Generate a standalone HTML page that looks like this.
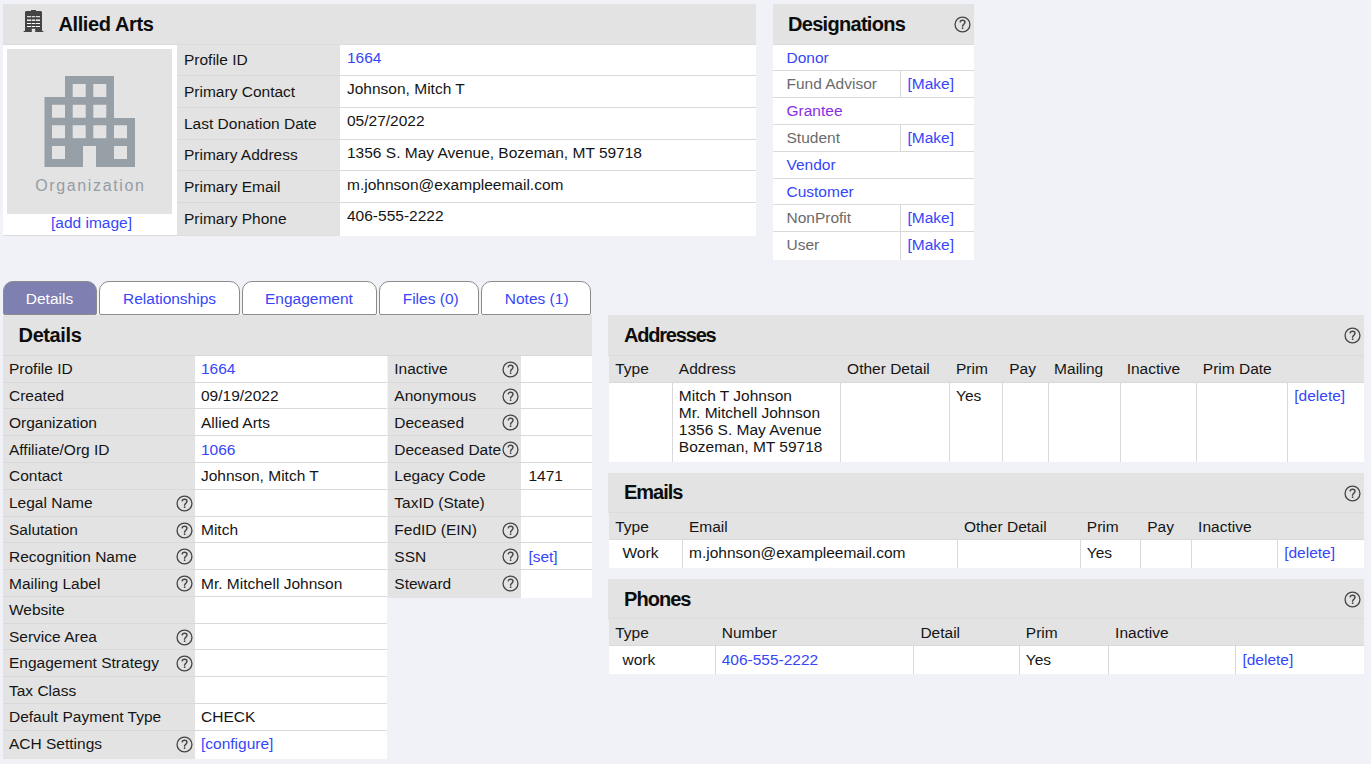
<!DOCTYPE html>
<html><head><meta charset="utf-8"><style>
html,body{margin:0;padding:0}
body{width:1371px;height:764px;overflow:hidden;background:#f0f2f7;position:relative;font-family:"Liberation Sans",sans-serif;font-size:15.5px;color:#151515}
.a{position:absolute}
.t{position:absolute;white-space:nowrap;line-height:17px}
.ttl{font-size:20px;font-weight:bold;line-height:22px;color:#0d0d0d}
.lk{color:#3646f8}
.vis{color:#8a2ee6}
.gr{color:#6b6b6b}
.tab{background:#fff;border:1px solid #8c8c8c;border-radius:10px 10px 2px 2px;box-sizing:border-box}
.tab.act{background:#7e80b2}
</style></head><body>
<div class="a" style="left:3px;top:4px;width:753px;height:40px;background:#e3e3e3"></div>
<div class="a" style="left:3px;top:44px;width:753px;height:1px;background:#dcdcdc"></div>
<div class="a" style="left:3px;top:45px;width:174px;height:190px;background:#fff"></div>
<div class="a" style="left:3px;top:235px;width:174px;height:1px;background:#dcdcdc"></div>
<div class="a" style="left:7px;top:49px;width:165px;height:165px;background:#e3e3e3"></div>
<svg class="a" style="left:0;top:0" width="180" height="240" viewBox="0 0 180 240"><path fill="#979fa7" fill-rule="evenodd" d="M65 76H114V118H135V167H96V146H83V167H44.5V97H65ZM72.7 84h13v13h-13zM93.3 84h13v13h-13zM52 104.7h13v13h-13zM72.7 104.7h13v13h-13zM93.3 104.7h13v13h-13zM52 125.3h13v13h-13zM72.7 125.3h13v13h-13zM93.3 125.3h13v13h-13zM114 125.3h13v13h-13zM52 146h13v13h-13zM114 146h13v13h-13z"/></svg>
<div class="t " style="left:35.3px;top:176.50px;color:#959ca4;letter-spacing:1.62px;font-size:16px">Organization</div>
<div class="t lk" style="left:51px;top:214.10px;">[add image]</div>
<svg class="a" style="left:22px;top:9px" width="23" height="24" viewBox="0 0 23 24"><path fill="#444" d="M3 3.4 Q3 2 4.5 2 H9 V1 H14 V2 H18.5 Q20 2 20 3.4 V21.5 L22 23 H13.2 V19.8 H9.8 V23 H1 L3 21.5Z"/><g fill="#fff"><rect x="5" y="7.2" width="4" height="1"/><rect x="9.7" y="7.2" width="3.6" height="1"/><rect x="14" y="7.2" width="4" height="1"/><rect x="5" y="10.5" width="4" height="1.4"/><rect x="9.7" y="10.5" width="3.6" height="1.4"/><rect x="14" y="10.5" width="4" height="1.4"/><rect x="5" y="14" width="4" height="1"/><rect x="9.7" y="14" width="3.6" height="1"/><rect x="14" y="14" width="4" height="1"/><rect x="5" y="17" width="4" height="1"/><rect x="9.7" y="17" width="3.6" height="1"/><rect x="14" y="17" width="4" height="1"/></g></svg>
<div class="t ttl" style="left:58.5px;top:13.40px;letter-spacing:-0.4px;">Allied Arts</div>
<div class="a" style="left:177px;top:45px;width:163px;height:191px;background:#e3e3e3"></div>
<div class="a" style="left:340px;top:45px;width:416px;height:191px;background:#fff"></div>
<div class="a" style="left:177px;top:235px;width:163px;height:1px;background:#dedede"></div>
<div class="a" style="left:177px;top:75px;width:579px;height:1px;background:#d9d9d9"></div>
<div class="a" style="left:177px;top:107px;width:579px;height:1px;background:#d9d9d9"></div>
<div class="a" style="left:177px;top:139px;width:579px;height:1px;background:#d9d9d9"></div>
<div class="a" style="left:177px;top:170px;width:579px;height:1px;background:#d9d9d9"></div>
<div class="a" style="left:177px;top:202px;width:579px;height:1px;background:#d9d9d9"></div>
<div class="t " style="left:184px;top:51.10px;">Profile ID</div>
<div class="t lk" style="left:347px;top:49.10px;">1664</div>
<div class="t " style="left:184px;top:83.10px;">Primary Contact</div>
<div class="t " style="left:347px;top:80.10px;">Johnson, Mitch T</div>
<div class="t " style="left:184px;top:115.10px;">Last Donation Date</div>
<div class="t " style="left:347px;top:112.10px;">05/27/2022</div>
<div class="t " style="left:184px;top:146.10px;">Primary Address</div>
<div class="t " style="left:347px;top:144.10px;">1356 S. May Avenue, Bozeman, MT 59718</div>
<div class="t " style="left:184px;top:178.10px;">Primary Email</div>
<div class="t " style="left:347px;top:176.10px;">m.johnson@exampleemail.com</div>
<div class="t " style="left:184px;top:210.10px;">Primary Phone</div>
<div class="t " style="left:347px;top:207.10px;">406-555-2222</div>
<div class="a" style="left:773px;top:4px;width:201px;height:40px;background:#e3e3e3"></div>
<div class="a" style="left:773px;top:44px;width:201px;height:1px;background:#dcdcdc"></div>
<div class="a" style="left:773px;top:45px;width:201px;height:215px;background:#fff"></div>
<div class="t ttl" style="left:788px;top:13.00px;letter-spacing:-0.7px;">Designations</div>
<svg class="a" style="left:953.90px;top:15.90px" width="17" height="17" viewBox="0 0 17 17"><circle cx="8.5" cy="8.5" r="7.45" fill="none" stroke="#454545" stroke-width="1.3"/><path d="M6.1 6.4 C6.2 4.9 7.2 4.3 8.6 4.3 C10 4.3 11 5.2 11 6.3 C11 7.8 9 8.3 8.6 9.9 L8.6 10.7" fill="none" stroke="#454545" stroke-width="1.4"/><circle cx="8.6" cy="12.2" r="0.85" fill="#454545"/></svg>
<div class="a" style="left:773px;top:70px;width:201px;height:1px;background:#d9d9d9"></div>
<div class="a" style="left:773px;top:97px;width:201px;height:1px;background:#d9d9d9"></div>
<div class="a" style="left:773px;top:124px;width:201px;height:1px;background:#d9d9d9"></div>
<div class="a" style="left:773px;top:151px;width:201px;height:1px;background:#d9d9d9"></div>
<div class="a" style="left:773px;top:178px;width:201px;height:1px;background:#d9d9d9"></div>
<div class="a" style="left:773px;top:204px;width:201px;height:1px;background:#d9d9d9"></div>
<div class="a" style="left:773px;top:231px;width:201px;height:1px;background:#d9d9d9"></div>
<div class="t lk" style="left:786.5px;top:49.10px;">Donor</div>
<div class="t gr" style="left:786.5px;top:75.10px;">Fund Advisor</div>
<div class="a" style="left:900px;top:71px;width:1px;height:26px;background:#d9d9d9"></div>
<div class="t lk" style="left:907.5px;top:75.10px;">[Make]</div>
<div class="t vis" style="left:786.5px;top:102.10px;">Grantee</div>
<div class="t gr" style="left:786.5px;top:129.10px;">Student</div>
<div class="a" style="left:900px;top:125px;width:1px;height:26px;background:#d9d9d9"></div>
<div class="t lk" style="left:907.5px;top:129.10px;">[Make]</div>
<div class="t lk" style="left:786.5px;top:156.10px;">Vendor</div>
<div class="t lk" style="left:786.5px;top:183.10px;">Customer</div>
<div class="t gr" style="left:786.5px;top:209.10px;">NonProfit</div>
<div class="a" style="left:900px;top:205px;width:1px;height:26px;background:#d9d9d9"></div>
<div class="t lk" style="left:907.5px;top:209.10px;">[Make]</div>
<div class="t gr" style="left:786.5px;top:236.10px;">User</div>
<div class="a" style="left:900px;top:232px;width:1px;height:28px;background:#d9d9d9"></div>
<div class="t lk" style="left:907.5px;top:236.10px;">[Make]</div>
<div class="a tab act" style="left:3px;top:281px;width:94px;height:34px"></div>
<div class="t " style="left:25.8px;top:290.10px;color:#fff">Details</div>
<div class="a tab" style="left:99px;top:281px;width:140.5px;height:34px"></div>
<div class="t lk" style="left:123px;top:290.10px;">Relationships</div>
<div class="a tab" style="left:242px;top:281px;width:134.5px;height:34px"></div>
<div class="t lk" style="left:265px;top:290.10px;">Engagement</div>
<div class="a tab" style="left:379px;top:281px;width:99.5px;height:34px"></div>
<div class="t lk" style="left:402.7px;top:290.10px;">Files (0)</div>
<div class="a tab" style="left:481px;top:281px;width:110.0px;height:34px"></div>
<div class="t lk" style="left:504.8px;top:290.10px;">Notes (1)</div>
<div class="a" style="left:3px;top:315px;width:589px;height:40px;background:#e3e3e3"></div>
<div class="t ttl" style="left:18.6px;top:323.90px;letter-spacing:-0.4px;">Details</div>
<div class="a" style="left:3px;top:356px;width:192px;height:403px;background:#e3e3e3"></div>
<div class="a" style="left:195px;top:356px;width:192px;height:403px;background:#fff"></div>
<div class="a" style="left:3px;top:355px;width:589px;height:1px;background:#d9d9d9"></div>
<div class="a" style="left:3px;top:382px;width:384px;height:1px;background:#d9d9d9"></div>
<div class="a" style="left:3px;top:408px;width:384px;height:1px;background:#d9d9d9"></div>
<div class="a" style="left:3px;top:435px;width:384px;height:1px;background:#d9d9d9"></div>
<div class="a" style="left:3px;top:462px;width:384px;height:1px;background:#d9d9d9"></div>
<div class="a" style="left:3px;top:489px;width:384px;height:1px;background:#d9d9d9"></div>
<div class="a" style="left:3px;top:516px;width:384px;height:1px;background:#d9d9d9"></div>
<div class="a" style="left:3px;top:542px;width:384px;height:1px;background:#d9d9d9"></div>
<div class="a" style="left:3px;top:569px;width:384px;height:1px;background:#d9d9d9"></div>
<div class="a" style="left:3px;top:596px;width:384px;height:1px;background:#d9d9d9"></div>
<div class="a" style="left:3px;top:623px;width:384px;height:1px;background:#d9d9d9"></div>
<div class="a" style="left:3px;top:649px;width:384px;height:1px;background:#d9d9d9"></div>
<div class="a" style="left:3px;top:676px;width:384px;height:1px;background:#d9d9d9"></div>
<div class="a" style="left:3px;top:703px;width:384px;height:1px;background:#d9d9d9"></div>
<div class="a" style="left:3px;top:730px;width:384px;height:1px;background:#d9d9d9"></div>
<div class="t " style="left:9px;top:360.10px;">Profile ID</div>
<div class="t lk" style="left:201px;top:360.10px;">1664</div>
<div class="t " style="left:9px;top:387.10px;">Created</div>
<div class="t " style="left:201px;top:387.10px;">09/19/2022</div>
<div class="t " style="left:9px;top:414.10px;">Organization</div>
<div class="t " style="left:201px;top:414.10px;">Allied Arts</div>
<div class="t " style="left:9px;top:441.10px;">Affiliate/Org ID</div>
<div class="t lk" style="left:201px;top:441.10px;">1066</div>
<div class="t " style="left:9px;top:467.10px;">Contact</div>
<div class="t " style="left:201px;top:467.10px;">Johnson, Mitch T</div>
<div class="t " style="left:9px;top:494.10px;">Legal Name</div>
<svg class="a" style="left:175.50px;top:495.00px" width="17" height="17" viewBox="0 0 17 17"><circle cx="8.5" cy="8.5" r="7.45" fill="none" stroke="#454545" stroke-width="1.3"/><path d="M6.1 6.4 C6.2 4.9 7.2 4.3 8.6 4.3 C10 4.3 11 5.2 11 6.3 C11 7.8 9 8.3 8.6 9.9 L8.6 10.7" fill="none" stroke="#454545" stroke-width="1.4"/><circle cx="8.6" cy="12.2" r="0.85" fill="#454545"/></svg>
<div class="t " style="left:9px;top:521.10px;">Salutation</div>
<svg class="a" style="left:175.50px;top:522.00px" width="17" height="17" viewBox="0 0 17 17"><circle cx="8.5" cy="8.5" r="7.45" fill="none" stroke="#454545" stroke-width="1.3"/><path d="M6.1 6.4 C6.2 4.9 7.2 4.3 8.6 4.3 C10 4.3 11 5.2 11 6.3 C11 7.8 9 8.3 8.6 9.9 L8.6 10.7" fill="none" stroke="#454545" stroke-width="1.4"/><circle cx="8.6" cy="12.2" r="0.85" fill="#454545"/></svg>
<div class="t " style="left:201px;top:521.10px;">Mitch</div>
<div class="t " style="left:9px;top:548.10px;">Recognition Name</div>
<svg class="a" style="left:175.50px;top:548.00px" width="17" height="17" viewBox="0 0 17 17"><circle cx="8.5" cy="8.5" r="7.45" fill="none" stroke="#454545" stroke-width="1.3"/><path d="M6.1 6.4 C6.2 4.9 7.2 4.3 8.6 4.3 C10 4.3 11 5.2 11 6.3 C11 7.8 9 8.3 8.6 9.9 L8.6 10.7" fill="none" stroke="#454545" stroke-width="1.4"/><circle cx="8.6" cy="12.2" r="0.85" fill="#454545"/></svg>
<div class="t " style="left:9px;top:575.10px;">Mailing Label</div>
<svg class="a" style="left:175.50px;top:575.00px" width="17" height="17" viewBox="0 0 17 17"><circle cx="8.5" cy="8.5" r="7.45" fill="none" stroke="#454545" stroke-width="1.3"/><path d="M6.1 6.4 C6.2 4.9 7.2 4.3 8.6 4.3 C10 4.3 11 5.2 11 6.3 C11 7.8 9 8.3 8.6 9.9 L8.6 10.7" fill="none" stroke="#454545" stroke-width="1.4"/><circle cx="8.6" cy="12.2" r="0.85" fill="#454545"/></svg>
<div class="t " style="left:201px;top:575.10px;">Mr. Mitchell Johnson</div>
<div class="t " style="left:9px;top:601.10px;">Website</div>
<div class="t " style="left:9px;top:628.10px;">Service Area</div>
<svg class="a" style="left:175.50px;top:629.00px" width="17" height="17" viewBox="0 0 17 17"><circle cx="8.5" cy="8.5" r="7.45" fill="none" stroke="#454545" stroke-width="1.3"/><path d="M6.1 6.4 C6.2 4.9 7.2 4.3 8.6 4.3 C10 4.3 11 5.2 11 6.3 C11 7.8 9 8.3 8.6 9.9 L8.6 10.7" fill="none" stroke="#454545" stroke-width="1.4"/><circle cx="8.6" cy="12.2" r="0.85" fill="#454545"/></svg>
<div class="t " style="left:9px;top:654.10px;">Engagement Strategy</div>
<svg class="a" style="left:175.50px;top:655.00px" width="17" height="17" viewBox="0 0 17 17"><circle cx="8.5" cy="8.5" r="7.45" fill="none" stroke="#454545" stroke-width="1.3"/><path d="M6.1 6.4 C6.2 4.9 7.2 4.3 8.6 4.3 C10 4.3 11 5.2 11 6.3 C11 7.8 9 8.3 8.6 9.9 L8.6 10.7" fill="none" stroke="#454545" stroke-width="1.4"/><circle cx="8.6" cy="12.2" r="0.85" fill="#454545"/></svg>
<div class="t " style="left:9px;top:682.10px;">Tax Class</div>
<div class="t " style="left:9px;top:708.10px;">Default Payment Type</div>
<div class="t " style="left:201px;top:708.10px;">CHECK</div>
<div class="t " style="left:9px;top:735.10px;">ACH Settings</div>
<svg class="a" style="left:175.50px;top:736.00px" width="17" height="17" viewBox="0 0 17 17"><circle cx="8.5" cy="8.5" r="7.45" fill="none" stroke="#454545" stroke-width="1.3"/><path d="M6.1 6.4 C6.2 4.9 7.2 4.3 8.6 4.3 C10 4.3 11 5.2 11 6.3 C11 7.8 9 8.3 8.6 9.9 L8.6 10.7" fill="none" stroke="#454545" stroke-width="1.4"/><circle cx="8.6" cy="12.2" r="0.85" fill="#454545"/></svg>
<div class="t lk" style="left:201px;top:735.10px;">[configure]</div>
<div class="a" style="left:388px;top:356px;width:133px;height:242px;background:#e3e3e3"></div>
<div class="a" style="left:521px;top:356px;width:71px;height:242px;background:#fff"></div>
<div class="a" style="left:388px;top:382px;width:204px;height:1px;background:#d9d9d9"></div>
<div class="a" style="left:388px;top:408px;width:204px;height:1px;background:#d9d9d9"></div>
<div class="a" style="left:388px;top:435px;width:204px;height:1px;background:#d9d9d9"></div>
<div class="a" style="left:388px;top:462px;width:204px;height:1px;background:#d9d9d9"></div>
<div class="a" style="left:388px;top:489px;width:204px;height:1px;background:#d9d9d9"></div>
<div class="a" style="left:388px;top:516px;width:204px;height:1px;background:#d9d9d9"></div>
<div class="a" style="left:388px;top:542px;width:204px;height:1px;background:#d9d9d9"></div>
<div class="a" style="left:388px;top:569px;width:204px;height:1px;background:#d9d9d9"></div>
<div class="t " style="left:394.3px;top:360.10px;">Inactive</div>
<svg class="a" style="left:501.90px;top:361.00px" width="17" height="17" viewBox="0 0 17 17"><circle cx="8.5" cy="8.5" r="7.45" fill="none" stroke="#454545" stroke-width="1.3"/><path d="M6.1 6.4 C6.2 4.9 7.2 4.3 8.6 4.3 C10 4.3 11 5.2 11 6.3 C11 7.8 9 8.3 8.6 9.9 L8.6 10.7" fill="none" stroke="#454545" stroke-width="1.4"/><circle cx="8.6" cy="12.2" r="0.85" fill="#454545"/></svg>
<div class="t " style="left:394.3px;top:387.10px;">Anonymous</div>
<svg class="a" style="left:501.90px;top:388.00px" width="17" height="17" viewBox="0 0 17 17"><circle cx="8.5" cy="8.5" r="7.45" fill="none" stroke="#454545" stroke-width="1.3"/><path d="M6.1 6.4 C6.2 4.9 7.2 4.3 8.6 4.3 C10 4.3 11 5.2 11 6.3 C11 7.8 9 8.3 8.6 9.9 L8.6 10.7" fill="none" stroke="#454545" stroke-width="1.4"/><circle cx="8.6" cy="12.2" r="0.85" fill="#454545"/></svg>
<div class="t " style="left:394.3px;top:414.10px;">Deceased</div>
<svg class="a" style="left:501.90px;top:414.00px" width="17" height="17" viewBox="0 0 17 17"><circle cx="8.5" cy="8.5" r="7.45" fill="none" stroke="#454545" stroke-width="1.3"/><path d="M6.1 6.4 C6.2 4.9 7.2 4.3 8.6 4.3 C10 4.3 11 5.2 11 6.3 C11 7.8 9 8.3 8.6 9.9 L8.6 10.7" fill="none" stroke="#454545" stroke-width="1.4"/><circle cx="8.6" cy="12.2" r="0.85" fill="#454545"/></svg>
<div class="t " style="left:394.3px;top:441.10px;">Deceased Date</div>
<svg class="a" style="left:501.90px;top:441.00px" width="17" height="17" viewBox="0 0 17 17"><circle cx="8.5" cy="8.5" r="7.45" fill="none" stroke="#454545" stroke-width="1.3"/><path d="M6.1 6.4 C6.2 4.9 7.2 4.3 8.6 4.3 C10 4.3 11 5.2 11 6.3 C11 7.8 9 8.3 8.6 9.9 L8.6 10.7" fill="none" stroke="#454545" stroke-width="1.4"/><circle cx="8.6" cy="12.2" r="0.85" fill="#454545"/></svg>
<div class="t " style="left:394.3px;top:467.10px;">Legacy Code</div>
<div class="t " style="left:528.4px;top:467.10px;">1471</div>
<div class="t " style="left:394.3px;top:494.10px;">TaxID (State)</div>
<div class="t " style="left:394.3px;top:521.10px;">FedID (EIN)</div>
<svg class="a" style="left:501.90px;top:522.00px" width="17" height="17" viewBox="0 0 17 17"><circle cx="8.5" cy="8.5" r="7.45" fill="none" stroke="#454545" stroke-width="1.3"/><path d="M6.1 6.4 C6.2 4.9 7.2 4.3 8.6 4.3 C10 4.3 11 5.2 11 6.3 C11 7.8 9 8.3 8.6 9.9 L8.6 10.7" fill="none" stroke="#454545" stroke-width="1.4"/><circle cx="8.6" cy="12.2" r="0.85" fill="#454545"/></svg>
<div class="t " style="left:394.3px;top:548.10px;">SSN</div>
<svg class="a" style="left:501.90px;top:548.00px" width="17" height="17" viewBox="0 0 17 17"><circle cx="8.5" cy="8.5" r="7.45" fill="none" stroke="#454545" stroke-width="1.3"/><path d="M6.1 6.4 C6.2 4.9 7.2 4.3 8.6 4.3 C10 4.3 11 5.2 11 6.3 C11 7.8 9 8.3 8.6 9.9 L8.6 10.7" fill="none" stroke="#454545" stroke-width="1.4"/><circle cx="8.6" cy="12.2" r="0.85" fill="#454545"/></svg>
<div class="t lk" style="left:528.4px;top:548.10px;">[set]</div>
<div class="t " style="left:394.3px;top:575.10px;">Steward</div>
<svg class="a" style="left:501.90px;top:575.00px" width="17" height="17" viewBox="0 0 17 17"><circle cx="8.5" cy="8.5" r="7.45" fill="none" stroke="#454545" stroke-width="1.3"/><path d="M6.1 6.4 C6.2 4.9 7.2 4.3 8.6 4.3 C10 4.3 11 5.2 11 6.3 C11 7.8 9 8.3 8.6 9.9 L8.6 10.7" fill="none" stroke="#454545" stroke-width="1.4"/><circle cx="8.6" cy="12.2" r="0.85" fill="#454545"/></svg>
<div class="a" style="left:608px;top:315px;width:756px;height:40px;background:#e3e3e3"></div>
<div class="t ttl" style="left:624px;top:324.40px;letter-spacing:-1.2px;">Addresses</div>
<svg class="a" style="left:1343.60px;top:327.00px" width="17" height="17" viewBox="0 0 17 17"><circle cx="8.5" cy="8.5" r="7.45" fill="none" stroke="#454545" stroke-width="1.3"/><path d="M6.1 6.4 C6.2 4.9 7.2 4.3 8.6 4.3 C10 4.3 11 5.2 11 6.3 C11 7.8 9 8.3 8.6 9.9 L8.6 10.7" fill="none" stroke="#454545" stroke-width="1.4"/><circle cx="8.6" cy="12.2" r="0.85" fill="#454545"/></svg>
<div class="a" style="left:608px;top:355px;width:756px;height:1px;background:#dcdcdc"></div>
<div class="a" style="left:609px;top:356px;width:755px;height:27px;background:#e3e3e3"></div>
<div class="a" style="left:609px;top:383px;width:755px;height:79px;background:#fff"></div>
<div class="a" style="left:609px;top:382px;width:755px;height:1px;background:#d9d9d9"></div>
<div class="a" style="left:672px;top:383px;width:1px;height:79px;background:#d9d9d9"></div>
<div class="a" style="left:840px;top:383px;width:1px;height:79px;background:#d9d9d9"></div>
<div class="a" style="left:949px;top:383px;width:1px;height:79px;background:#d9d9d9"></div>
<div class="a" style="left:1002px;top:383px;width:1px;height:79px;background:#d9d9d9"></div>
<div class="a" style="left:1048px;top:383px;width:1px;height:79px;background:#d9d9d9"></div>
<div class="a" style="left:1120px;top:383px;width:1px;height:79px;background:#d9d9d9"></div>
<div class="a" style="left:1196px;top:383px;width:1px;height:79px;background:#d9d9d9"></div>
<div class="a" style="left:1287px;top:383px;width:1px;height:79px;background:#d9d9d9"></div>
<div class="t " style="left:615.2px;top:360.10px;">Type</div>
<div class="t " style="left:678.8px;top:360.10px;">Address</div>
<div class="t " style="left:847.1px;top:360.10px;">Other Detail</div>
<div class="t " style="left:956px;top:360.10px;">Prim</div>
<div class="t " style="left:1009.2px;top:360.10px;">Pay</div>
<div class="t " style="left:1054.1px;top:360.10px;">Mailing</div>
<div class="t " style="left:1126.7px;top:360.10px;">Inactive</div>
<div class="t " style="left:1202.8px;top:360.10px;">Prim Date</div>
<div class="t " style="left:956px;top:387.10px;">Yes</div>
<div class="t lk" style="left:1294.3px;top:387.10px;">[delete]</div>
<div class="t" style="left:678.8px;top:387.1px;line-height:17px">Mitch T Johnson<br>Mr. Mitchell Johnson<br>1356 S. May Avenue<br>Bozeman, MT 59718</div>
<div class="a" style="left:608px;top:473px;width:756px;height:39px;background:#e3e3e3"></div>
<div class="t ttl" style="left:624px;top:481.40px;letter-spacing:-1.0px;">Emails</div>
<svg class="a" style="left:1343.60px;top:485.00px" width="17" height="17" viewBox="0 0 17 17"><circle cx="8.5" cy="8.5" r="7.45" fill="none" stroke="#454545" stroke-width="1.3"/><path d="M6.1 6.4 C6.2 4.9 7.2 4.3 8.6 4.3 C10 4.3 11 5.2 11 6.3 C11 7.8 9 8.3 8.6 9.9 L8.6 10.7" fill="none" stroke="#454545" stroke-width="1.4"/><circle cx="8.6" cy="12.2" r="0.85" fill="#454545"/></svg>
<div class="a" style="left:608px;top:512px;width:756px;height:1px;background:#dcdcdc"></div>
<div class="a" style="left:609px;top:513px;width:755px;height:27px;background:#e3e3e3"></div>
<div class="a" style="left:609px;top:540px;width:755px;height:28px;background:#fff"></div>
<div class="a" style="left:609px;top:539px;width:755px;height:1px;background:#d9d9d9"></div>
<div class="a" style="left:682px;top:540px;width:1px;height:28px;background:#d9d9d9"></div>
<div class="a" style="left:957px;top:540px;width:1px;height:28px;background:#d9d9d9"></div>
<div class="a" style="left:1080px;top:540px;width:1px;height:28px;background:#d9d9d9"></div>
<div class="a" style="left:1140px;top:540px;width:1px;height:28px;background:#d9d9d9"></div>
<div class="a" style="left:1191px;top:540px;width:1px;height:28px;background:#d9d9d9"></div>
<div class="a" style="left:1277px;top:540px;width:1px;height:28px;background:#d9d9d9"></div>
<div class="t " style="left:615.2px;top:518.10px;">Type</div>
<div class="t " style="left:689px;top:518.10px;">Email</div>
<div class="t " style="left:963.9px;top:518.10px;">Other Detail</div>
<div class="t " style="left:1086.8px;top:518.10px;">Prim</div>
<div class="t " style="left:1147.2px;top:518.10px;">Pay</div>
<div class="t " style="left:1198.1px;top:518.10px;">Inactive</div>
<div class="t " style="left:622.5px;top:544.10px;">Work</div>
<div class="t " style="left:689px;top:544.10px;">m.johnson@exampleemail.com</div>
<div class="t " style="left:1086.8px;top:544.10px;">Yes</div>
<div class="t lk" style="left:1284.2px;top:544.10px;">[delete]</div>
<div class="a" style="left:608px;top:579px;width:756px;height:39px;background:#e3e3e3"></div>
<div class="t ttl" style="left:624px;top:588.40px;letter-spacing:-0.95px;">Phones</div>
<svg class="a" style="left:1343.60px;top:591.00px" width="17" height="17" viewBox="0 0 17 17"><circle cx="8.5" cy="8.5" r="7.45" fill="none" stroke="#454545" stroke-width="1.3"/><path d="M6.1 6.4 C6.2 4.9 7.2 4.3 8.6 4.3 C10 4.3 11 5.2 11 6.3 C11 7.8 9 8.3 8.6 9.9 L8.6 10.7" fill="none" stroke="#454545" stroke-width="1.4"/><circle cx="8.6" cy="12.2" r="0.85" fill="#454545"/></svg>
<div class="a" style="left:608px;top:618px;width:756px;height:1px;background:#dcdcdc"></div>
<div class="a" style="left:609px;top:619px;width:755px;height:27px;background:#e3e3e3"></div>
<div class="a" style="left:609px;top:646px;width:755px;height:28px;background:#fff"></div>
<div class="a" style="left:609px;top:645px;width:755px;height:1px;background:#d9d9d9"></div>
<div class="a" style="left:715px;top:646px;width:1px;height:28px;background:#d9d9d9"></div>
<div class="a" style="left:913px;top:646px;width:1px;height:28px;background:#d9d9d9"></div>
<div class="a" style="left:1019px;top:646px;width:1px;height:28px;background:#d9d9d9"></div>
<div class="a" style="left:1108px;top:646px;width:1px;height:28px;background:#d9d9d9"></div>
<div class="a" style="left:1235px;top:646px;width:1px;height:28px;background:#d9d9d9"></div>
<div class="t " style="left:615.2px;top:624.10px;">Type</div>
<div class="t " style="left:721.7px;top:624.10px;">Number</div>
<div class="t " style="left:920.4px;top:624.10px;">Detail</div>
<div class="t " style="left:1025.8px;top:624.10px;">Prim</div>
<div class="t " style="left:1115.1px;top:624.10px;">Inactive</div>
<div class="t " style="left:622.5px;top:651.10px;">work</div>
<div class="t lk" style="left:721.7px;top:651.10px;">406-555-2222</div>
<div class="t " style="left:1025.8px;top:651.10px;">Yes</div>
<div class="t lk" style="left:1242.4px;top:651.10px;">[delete]</div>
</body></html>
